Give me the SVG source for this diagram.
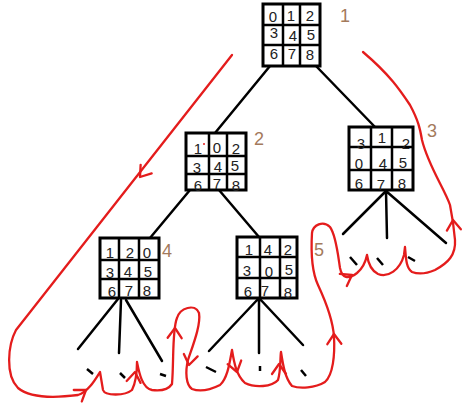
<svg xmlns="http://www.w3.org/2000/svg" xmlns:xlink="http://www.w3.org/1999/xlink" width="474" height="407" viewBox="0 0 474 407">
<defs>
<style>
.grid{fill:#fff;stroke:#000;stroke-width:3}
.gl{stroke:#000;stroke-width:2.5;fill:none}
.d{font-family:"Liberation Sans",Arial,sans-serif;font-size:15px;fill:#222;text-anchor:middle}
.lab{font-family:"Liberation Sans",Arial,sans-serif;font-size:18px;fill:#a47a5c;text-anchor:middle}
.edge{stroke:#000;stroke-width:2.5;fill:none;stroke-linecap:round}
.leaf{stroke:#000;stroke-width:2.5;fill:none}
.red{stroke:#e41c1c;stroke-width:2.3;fill:none;stroke-linecap:round;stroke-linejoin:round}
</style>
<path id="chev" d="M-10,-7 L0,0 L-10,7" class="red"/>
</defs>
<rect width="474" height="407" fill="#fff"/>

<g id="connectors">
<path class="edge" d="M270,66 L215,133"/>
<path class="edge" d="M316,66 L375,127"/>
<path class="edge" d="M190,190 L150,238"/>
<path class="edge" d="M219,190 L259,237"/>
<path class="edge" d="M386,191 L343,234 M386,191 L387,238 M386,191 L446,243"/>
<path class="edge" d="M118,299 L78,349 M121,300 L119,353 M126,300 L162,361"/>
<path class="edge" d="M259,298 L209,351 M259,298 L259,353 M259,298 L303,345"/>
<path class="leaf" d="M87,369 L93,374 M120,373 L125,378 M160,374 L166,376 M206,367 L216,372 M260,366 L260,371 M301,370 L306,376 M350,257 L357,265 M377,258 L383,265 M408,257 L415,261"/>
</g>

<g id="node1">
<rect class="grid" x="263" y="4" width="57" height="62"/>
<path class="gl" d="M283,4 V66 M300,4 V66 M263,25 H320 M263,45 H320"/>
<text class="d" x="273" y="22">0</text><text class="d" x="291" y="21">1</text><text class="d" x="310" y="21">2</text>
<text class="d" x="274" y="38">3</text><text class="d" x="293" y="41">4</text><text class="d" x="311" y="40">5</text>
<text class="d" x="274" y="59">6</text><text class="d" x="292" y="59">7</text><text class="d" x="310" y="60">8</text>
<text class="lab" x="345" y="22">1</text>
</g>

<g id="node2">
<rect class="grid" x="186" y="133" width="60" height="57"/>
<path class="gl" d="M209,133 V190 M227,133 V190 M186,156 H246 M186,174 H246"/>
<text class="d" x="198" y="154">1</text><text class="d" x="217" y="153">0</text><text class="d" x="236" y="154">2</text>
<circle cx="204" cy="144" r="1" fill="#e41c1c"/>
<text class="d" x="197" y="173">3</text><text class="d" x="218" y="172">4</text><text class="d" x="235" y="171">5</text>
<text class="d" x="198" y="191">6</text><text class="d" x="217" y="189">7</text><text class="d" x="236" y="191">8</text>
<text class="lab" x="259" y="145">2</text>
</g>

<g id="node3">
<rect class="grid" x="349" y="127" width="64" height="63"/>
<path class="gl" d="M371,127 V190 M392,127 V190 M349,147 H413 M349,170 H413"/>
<text class="d" x="361" y="149">3</text><text class="d" x="382" y="143">1</text><text class="d" x="406" y="149">2</text>
<text class="d" x="359" y="169">0</text><text class="d" x="383" y="169">4</text><text class="d" x="403" y="168">5</text>
<text class="d" x="359" y="189">6</text><text class="d" x="381" y="190">7</text><text class="d" x="402" y="189">8</text>
<text class="lab" x="432" y="137">3</text>
</g>

<g id="node4">
<rect class="grid" x="100" y="238" width="59" height="60"/>
<path class="gl" d="M119,238 V298 M139,238 V298 M100,260 H159 M100,279 H159"/>
<text class="d" x="110" y="258">1</text><text class="d" x="130" y="258">2</text><text class="d" x="147" y="258">0</text>
<text class="d" x="110" y="278">3</text><text class="d" x="128" y="277">4</text><text class="d" x="148" y="277">5</text>
<text class="d" x="112" y="297">6</text><text class="d" x="129" y="296">7</text><text class="d" x="147" y="296">8</text>
<text class="lab" x="167" y="257">4</text>
</g>

<g id="node5">
<rect class="grid" x="237" y="237" width="60" height="61"/>
<path class="gl" d="M260,237 V298 M280,237 V298 M237,257 H297 M237,278 H297"/>
<text class="d" x="249" y="255">1</text><text class="d" x="268" y="255">4</text><text class="d" x="288" y="255">2</text>
<text class="d" x="247" y="276">3</text><text class="d" x="269" y="277">0</text><text class="d" x="289" y="275">5</text>
<text class="d" x="248" y="297">6</text><text class="d" x="265" y="296">7</text><text class="d" x="288" y="298">8</text>
<text class="lab" x="319" y="256">5</text>
</g>

<g id="traversal">
<path class="red" d="M232,55 L16,330 C8,345 5,375 18,388 C30,398 55,398 78,395 C88,392 95,380 100,372 L103,390 C105,396 125,396 132,390 C136,382 137,368 137,362 C139,372 142,388 152,390 C160,391 168,390 172,384 C174,360 172,330 177,318 C180,308 195,303 199,313 C201,325 193,345 188,360 C185,372 186,385 192,389 C200,392 210,390 220,385 C228,378 230,360 232,350 C234,362 236,375 245,383 C255,388 272,387 278,380 C281,370 280,358 281,352 C283,365 285,378 292,386 C300,389 315,388 325,382 C333,375 335,355 334,337 C333,320 325,300 318,285 C312,272 311,250 312,233 C313,225 323,220 330,227 C336,235 338,255 340,268 C342,278 348,280 357,273 C363,268 366,260 367,255 C368,262 370,270 378,274 C388,278 400,270 404,255 L405,247 C406,258 406,268 412,272 C420,275 428,273 435,270 C448,263 456,255 455,240 C454,228 452,215 450,205 C445,190 428,165 422,140 C420,128 418,120 410,105 C400,90 390,75 363,52"/>
<use xlink:href="#chev" transform="translate(140,177) rotate(128)"/>
<use xlink:href="#chev" transform="translate(86,390) rotate(-35)"/>
<use xlink:href="#chev" transform="translate(135,372) rotate(-82)"/>
<use xlink:href="#chev" transform="translate(175,328) rotate(-88)"/>
<use xlink:href="#chev" transform="translate(189,365) rotate(100)"/>
<use xlink:href="#chev" transform="translate(237,372) rotate(75)"/>
<use xlink:href="#chev" transform="translate(279,364) rotate(-90)"/>
<use xlink:href="#chev" transform="translate(334,334) rotate(-92)"/>
<use xlink:href="#chev" transform="translate(352,275) rotate(-30)"/>
<use xlink:href="#chev" transform="translate(453,220) rotate(-95)"/>
</g>
</svg>
